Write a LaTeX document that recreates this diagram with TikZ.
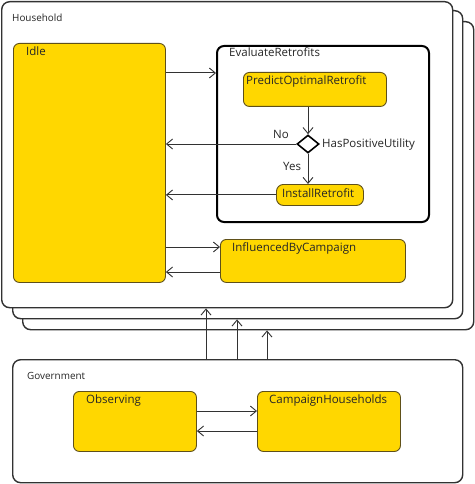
\documentclass[tikz,border=0pt]{standalone}
\usepackage{fontspec}
\setmainfont{Open Sans}
\usetikzlibrary{arrows.meta,shapes.geometric}
\definecolor{stateyellow}{RGB}{255,215,0}
\definecolor{stateborder}{RGB}{95,80,25}
\definecolor{linegray}{RGB}{50,50,50}
\tikzset{
  cont/.style={draw=linegray, line width=1.4pt, fill=white, rounded corners=8pt, anchor=north west, inner sep=0pt},
  stbox/.style={draw=stateborder, line width=0.9pt, fill=stateyellow, rounded corners=6pt, anchor=north west, inner sep=0pt},
  lbl/.style={anchor=base west, inner sep=0pt, font=\fontsize{11.5}{13}\selectfont, text=black!85},
  clbl/.style={anchor=base west, inner sep=0pt, font=\fontsize{9.9}{11}\selectfont, text=black!85},
  arr/.style={draw=linegray, line width=1pt, -{Straight Barb[length=6pt,width=10pt,line width=0.9pt]}},
}
\begin{document}
\begin{tikzpicture}[x=1pt,y=-1pt]
\useasboundingbox (0,0) rectangle (474,484);
% household stack
\node[cont, minimum width=451, minimum height=308] (hh3) at (22,21) {};
\node[cont, minimum width=450, minimum height=308] (hh2) at (12,10) {};
\node[cont, minimum width=451, minimum height=306] (hh1) at (1,1) {};
\node[clbl] (hhl) at (12,22) {Household};
% Idle
\node[stbox, minimum width=152, minimum height=239] (idle) at (13,43) {};
\node[lbl] (idlel) at (26,56) {Idle};
% EvaluateRetrofits
\node[draw=black, line width=2pt, fill=white, rounded corners=7pt, anchor=north west, inner sep=0pt, minimum width=212, minimum height=176] (eval) at (216,45) {};
\node[lbl] (evall) at (229,57) {EvaluateRetrofits};
\node[stbox, minimum width=143, minimum height=34] (pred) at (243,72) {};
\node[lbl] (predl) at (246,85) {PredictOptimalRetrofit};
\node[draw=black, line width=1.6pt, fill=white, diamond, minimum width=22, minimum height=18, inner sep=0pt] (dec) at (308,144) {};
\node[lbl] (decl) at (322,147) {HasPositiveUtility};
\node[stbox, minimum width=87, minimum height=21, rounded corners=7pt] (inst) at (276,184) {};
\node[lbl] (instl) at (282,197) {InstallRetrofit};
\node[lbl] (nol) at (273,139) {No};
\node[lbl] (yesl) at (283,170) {Yes};
% Influenced
\node[stbox, minimum width=185, minimum height=43] (infl) at (220,239) {};
\node[lbl] (infll) at (232,251) {InfluencedByCampaign};
% Government
\node[cont, minimum width=450, minimum height=123] (gov) at (12,359) {};
\node[clbl] (govl) at (27,379) {Government};
\node[stbox, minimum width=123, minimum height=60] (obs) at (73,391) {};
\node[lbl] (obsl) at (86,403) {Observing};
\node[stbox, minimum width=143, minimum height=60] (camp) at (257,391) {};
\node[lbl] (campl) at (269,403) {CampaignHouseholds};
% connectors
\draw[arr] (idle.east |- 0,73) -- (eval.west |- 0,73);
\draw[arr] (dec.west) -- (idle.east |- dec.west);
\draw[arr] (inst.west) -- (idle.east |- inst.west);
\draw[arr] (pred.south -| dec.north) -- (dec.north);
\draw[arr] (dec.south) -- (inst.north -| dec.south);
\draw[arr] (idle.east |- 0,247) -- (infl.west |- 0,247);
\draw[arr] (infl.west |- 0,272) -- (idle.east |- 0,272);
\draw[arr] (obs.east |- 0,411) -- (camp.west |- 0,411);
\draw[arr] (camp.west |- 0,431) -- (obs.east |- 0,431);
\draw[arr] (gov.north -| 206,0) -- (hh1.south -| 206,0);
\draw[arr] (gov.north -| 237,0) -- (hh2.south -| 237,0);
\draw[arr] (gov.north -| 267,0) -- (hh3.south -| 267,0);
\end{tikzpicture}
\end{document}
